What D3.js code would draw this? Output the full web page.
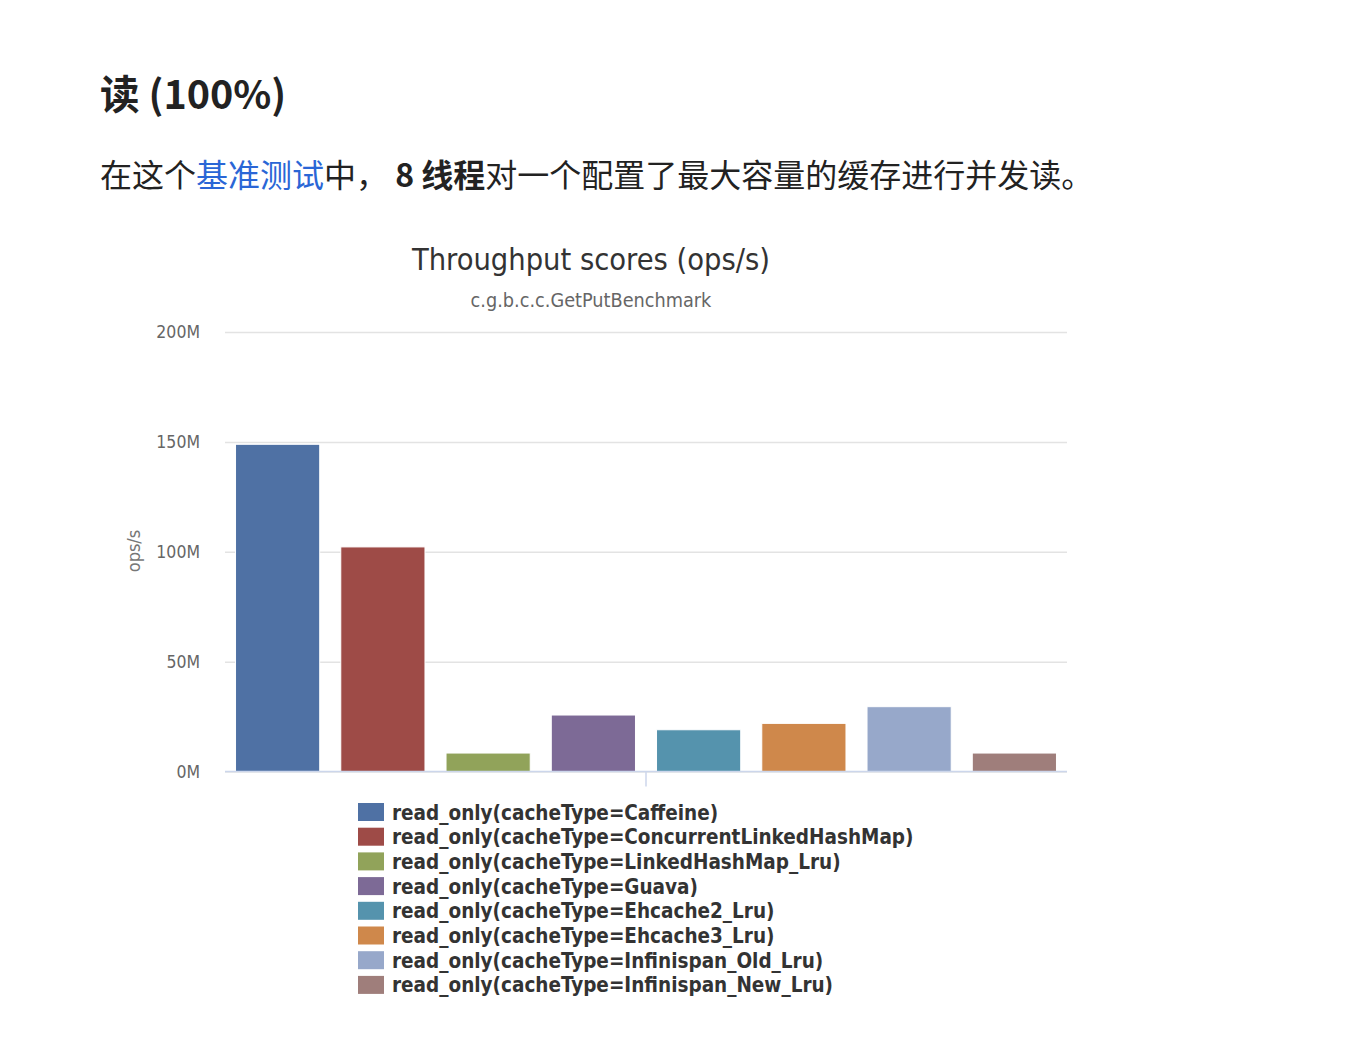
<!DOCTYPE html>
<html>
<head>
<meta charset="utf-8">
<script src="https://cdn.jsdelivr.net/npm/d3@7"></script>
<style>
  body { margin: 0; background: #fff; font-family: "Noto Sans CJK SC", "Noto Sans", sans-serif; color: #222; }
  .page { position: relative; width: 1350px; height: 1040px; }
  h2 { position: absolute; left: 100px; top: 68px; margin: 0; font-size: 39.5px; font-weight: 700; line-height: 1.2; }
  p.lead { position: absolute; left: 100px; top: 153px; margin: 0; font-size: 32px; line-height: 1.3; white-space: nowrap; }
  p.lead a { color: #2a66d6; text-decoration: none; }
  #chart { position: absolute; left: 0; top: 0; }
</style>
</head>
<body>
<div class="page">
  <h2>读 (100%)</h2>
  <p class="lead">在这个<a href="#">基准测试</a>中， <b>8 线程</b>对一个配置了最大容量的缓存进行并发读。</p>
  <div id="chart"></div>
</div>
<script>
// chart data
let series = [
    "read_only(cacheType=Caffeine)",
    "read_only(cacheType=ConcurrentLinkedHashMap)",
    "read_only(cacheType=LinkedHashMap_Lru)",
    "read_only(cacheType=Guava)",
    "read_only(cacheType=Ehcache2_Lru)",
    "read_only(cacheType=Ehcache3_Lru)",
    "read_only(cacheType=Infinispan_Old_Lru)",
    "read_only(cacheType=Infinispan_New_Lru)"
];
let scores = [148.9e6, 102.2e6, 8.4e6, 25.7e6, 19.0e6, 21.9e6, 29.5e6, 8.4e6];
let colors = ["#4f71a4", "#9e4b47", "#91a35a", "#7d6a96", "#5593ad", "#cf884b", "#97a8ca", "#9f7e7b"];
let yTicks = [0, 50e6, 100e6, 150e6, 200e6];

let chartFont = "'DejaVu Sans Condensed', 'DejaVu Sans', sans-serif";

let svg = d3.select("#chart")
    .append("svg")
    .attr("width", 1350)
    .attr("height", 1040)
    .style("font-family", chartFont)
    .style("font-stretch", "condensed");

// plot area
let plot = { left: 225, right: 1067, top: 332, bottom: 771.5 };

let x = d3.scaleBand()
    .domain(series)
    .range([plot.left, plot.right])
    .paddingInner(0.2)
    .paddingOuter(0.1);

let y = d3.scaleLinear()
    .domain([0, 200e6])
    .range([plot.bottom, plot.top]);

// titles
svg.append("text")
    .attr("x", 591).attr("y", 270)
    .attr("text-anchor", "middle")
    .attr("fill", "#333")
    .style("font-size", "30.5px")
    .text("Throughput scores (ops/s)");

svg.append("text")
    .attr("x", 591).attr("y", 307)
    .attr("text-anchor", "middle")
    .attr("fill", "#666")
    .style("font-size", "19.7px")
    .text("c.g.b.c.c.GetPutBenchmark");

// gridlines + y labels
let yAxis = d3.axisLeft(y)
    .tickValues(yTicks)
    .tickSize(-(plot.right - plot.left))
    .tickPadding(25)
    .tickFormat(d => (d / 1e6) + "M");

let gy = svg.append("g")
    .attr("transform", `translate(${plot.left},0)`)
    .call(yAxis);
gy.select(".domain").remove();
gy.selectAll(".tick line").attr("stroke", "#e3e3e3").attr("stroke-width", 1.5);
gy.selectAll(".tick text")
    .attr("fill", "#666")
    .style("font-size", "17.5px")
    .style("font-family", chartFont);

svg.append("text")
    .attr("transform", "translate(140,551) rotate(-90)")
    .attr("text-anchor", "middle")
    .attr("fill", "#777")
    .style("font-size", "18px")
    .text("ops/s");

// bars
svg.append("g")
    .selectAll("rect")
    .data(series)
    .enter()
    .append("rect")
    .attr("x", d => x(d))
    .attr("width", x.bandwidth())
    .attr("y", (d, i) => y(scores[i]))
    .attr("height", (d, i) => y(0) - y(scores[i]))
    .attr("fill", (d, i) => colors[i])
    .attr("stroke", "#fff")
    .attr("stroke-width", 1);

// x axis line with the single category tick
let xCat = d3.scaleBand().domain(["read_only"]).range([plot.left, plot.right]);
let xAxis = d3.axisBottom(xCat).tickSize(15).tickFormat("");
let gx = svg.append("g")
    .attr("transform", `translate(0,${plot.bottom})`)
    .call(xAxis);
gx.select(".domain").attr("stroke", "#ccd6eb").attr("stroke-width", 1.5).attr("d", `M${plot.left},0H${plot.right}`);
gx.selectAll(".tick line").attr("stroke", "#ccd6eb").attr("stroke-width", 1.5);

// legend
let legend = svg.append("g")
    .attr("transform", "translate(358,812)");

let rows = legend.selectAll("g")
    .data(series)
    .enter()
    .append("g")
    .attr("transform", (d, i) => `translate(0,${i * 24.7})`);

rows.append("rect")
    .attr("x", 0).attr("y", -9)
    .attr("width", 26).attr("height", 18)
    .attr("fill", (d, i) => colors[i]);

rows.append("text")
    .attr("x", 34).attr("y", 7.5)
    .attr("fill", "#333")
    .style("font-size", "20.5px")
    .style("font-weight", "bold")
    .text(d => d);
</script>
</body>
</html>
